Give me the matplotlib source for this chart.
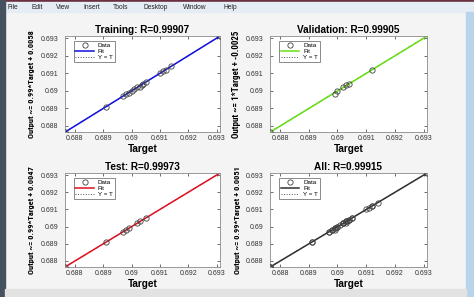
import numpy as np
import matplotlib.pyplot as plt
from matplotlib.patches import Rectangle
from matplotlib import font_manager

# Regression plot data (target vs network output)
lims = [0.68765, 0.69312]
train_t = [0.68765, 0.6891, 0.6897, 0.6898, 0.6899, 0.6900, 0.6901, 0.6902, 0.6903,
           0.69035, 0.6904, 0.6905, 0.6910, 0.6911, 0.6912, 0.6914, 0.69312]
train_y = [0.68765, 0.6891, 0.6897, 0.6898, 0.6899, 0.6900, 0.6901, 0.6902, 0.6902,
           0.69035, 0.6904, 0.6905, 0.6910, 0.6911, 0.6912, 0.6914, 0.69312]
val_t = [0.68765, 0.6899, 0.6900, 0.6902, 0.6903, 0.6904, 0.6912]
val_y = [0.68765, 0.6898, 0.6900, 0.6902, 0.6903, 0.6904, 0.6912]
test_t = [0.68765, 0.6891, 0.6897, 0.6898, 0.6899, 0.6902, 0.6903, 0.6905]
test_y = [0.68765, 0.6891, 0.6897, 0.6898, 0.6899, 0.6902, 0.6903, 0.6905]
all_t = train_t + val_t + test_t
all_y = train_y + val_y + test_y

titles = ['Training: R=0.99907', 'Validation: R=0.99905', 'Test: R=0.99973', 'All: R=0.99915']
ylabels = ['Output ~= 0.99*Target + 0.0058', 'Output ~= 1*Target + -0.0025',
           'Output ~= 0.99*Target + 0.0047', 'Output ~= 0.99*Target + 0.0051']
fit_colors = ['#1010e0', '#66e010', '#e01020', '#303030']
ticks = [0.688, 0.689, 0.69, 0.691, 0.692, 0.693]
tick_labels = ['0.688', '0.689', '0.69', '0.691', '0.692', '0.693']
menu_items = ['File', 'Edit', 'View', 'Insert', 'Tools', 'Desktop', 'Window', 'Help']
menu_x = [8, 32, 56, 83, 113, 143, 183, 224]

# pick a narrow font for the y labels if one is around
have = {f.name for f in font_manager.fontManager.ttflist}
narrow = [n for n in ['Liberation Sans Narrow', 'Roboto Condensed', 'Open Sans Condensed',
                      'DejaVu Sans Condensed'] if n in have] + ['DejaVu Sans']
plt.rcParams['font.family'] = ['Liberation Sans', 'DejaVu Sans']

W, H = 474, 297
fig = plt.figure(figsize=(W / 100, H / 100), dpi=100)
fig.patch.set_facecolor('#f4f4f4')

# window chrome
def px_rect(x0, y0, x1, y1, color):
    fig.patches.append(Rectangle((x0 / W, 1 - y1 / H), (x1 - x0) / W, (y1 - y0) / H,
                                 transform=fig.transFigure, color=color, zorder=-1))

px_rect(0, 0, W, 2, '#6a3040')
px_rect(0, 2, W, 12, '#e6ecf3')
px_rect(0, 0, 5, H, '#46515e')
px_rect(466, 12, W, H, '#b9d4ea')
px_rect(5, 289, 466, H, '#e2e2e2')
for name, x in zip(menu_items, menu_x):
    fig.text(x / W, 1 - 7.5 / H, name, fontsize=4.8, color='#222222', va='center', ha='left')

boxes = [(65, 36, 220, 132), (270, 36, 427, 132), (65, 173, 220, 267), (270, 173, 427, 267)]
label_x = [35, 241, 35, 241]
data = [(train_t, train_y), (val_t, val_y), (test_t, test_y), (all_t, all_y)]

ylab_objs = []
for k in range(4):
    x0, y0, x1, y1 = boxes[k]
    ax = fig.add_axes([x0 / W, 1 - y1 / H, (x1 - x0) / W, (y1 - y0) / H])
    t, y = np.array(data[k][0]), np.array(data[k][1])
    slope, icpt = np.polyfit(t, y, 1)
    xs = np.array(lims)
    ax.plot(xs, xs, color='#555555', ls=':', lw=0.7, label='Y = T', zorder=1)
    ax.plot(xs, slope * xs + icpt, color=fit_colors[k], lw=1.1, label='Fit', zorder=2)
    ax.plot(t, y, 'o', mfc='none', mec='#404040', ms=3.8, mew=0.6, label='Data', zorder=3)
    ax.set_xlim(lims)
    ax.set_ylim(lims)
    ax.set_xticks(ticks)
    ax.set_xticklabels(tick_labels)
    ax.set_yticks(ticks)
    ax.set_yticklabels(tick_labels)
    ax.tick_params(direction='in', length=2, width=0.5, labelsize=5, colors='#333333',
                   top=True, right=True)
    ax.tick_params(axis='y', pad=5)
    ax.tick_params(axis='x', pad=2.5)
    for s in ax.spines.values():
        s.set_color('#8a8a8a')
        s.set_linewidth(0.6)
    ax.set_title(titles[k], fontsize=7.2, fontweight='bold', pad=2)
    ax.set_xlabel('Target', fontsize=7.2, fontweight='bold', labelpad=1)
    lab = ax.set_ylabel(ylabels[k], fontsize=6, fontweight='bold', family=narrow)
    ax.yaxis.set_label_coords((label_x[k] - x0) / (x1 - x0), 0.5)
    ylab_objs.append(lab)
    h, l = ax.get_legend_handles_labels()
    order = [2, 1, 0]
    leg = ax.legend([h[i] for i in order], [l[i] for i in order], loc='upper left',
                    fontsize=4.5, frameon=True, fancybox=False, borderpad=0.3,
                    handlelength=3.0, handletextpad=0.6, labelspacing=0.1,
                    borderaxespad=0, bbox_to_anchor=(0.055, 0.95))
    leg.get_frame().set_edgecolor('#333333')
    leg.get_frame().set_linewidth(0.5)

# shrink the y labels to roughly the length they have in the screenshot
fig.canvas.draw()
for lab in ylab_objs:
    ext = lab.get_window_extent()
    lab.set_fontsize(6 * 108 / ext.height)

fig.savefig('out.png', dpi=100, facecolor=fig.get_facecolor())
